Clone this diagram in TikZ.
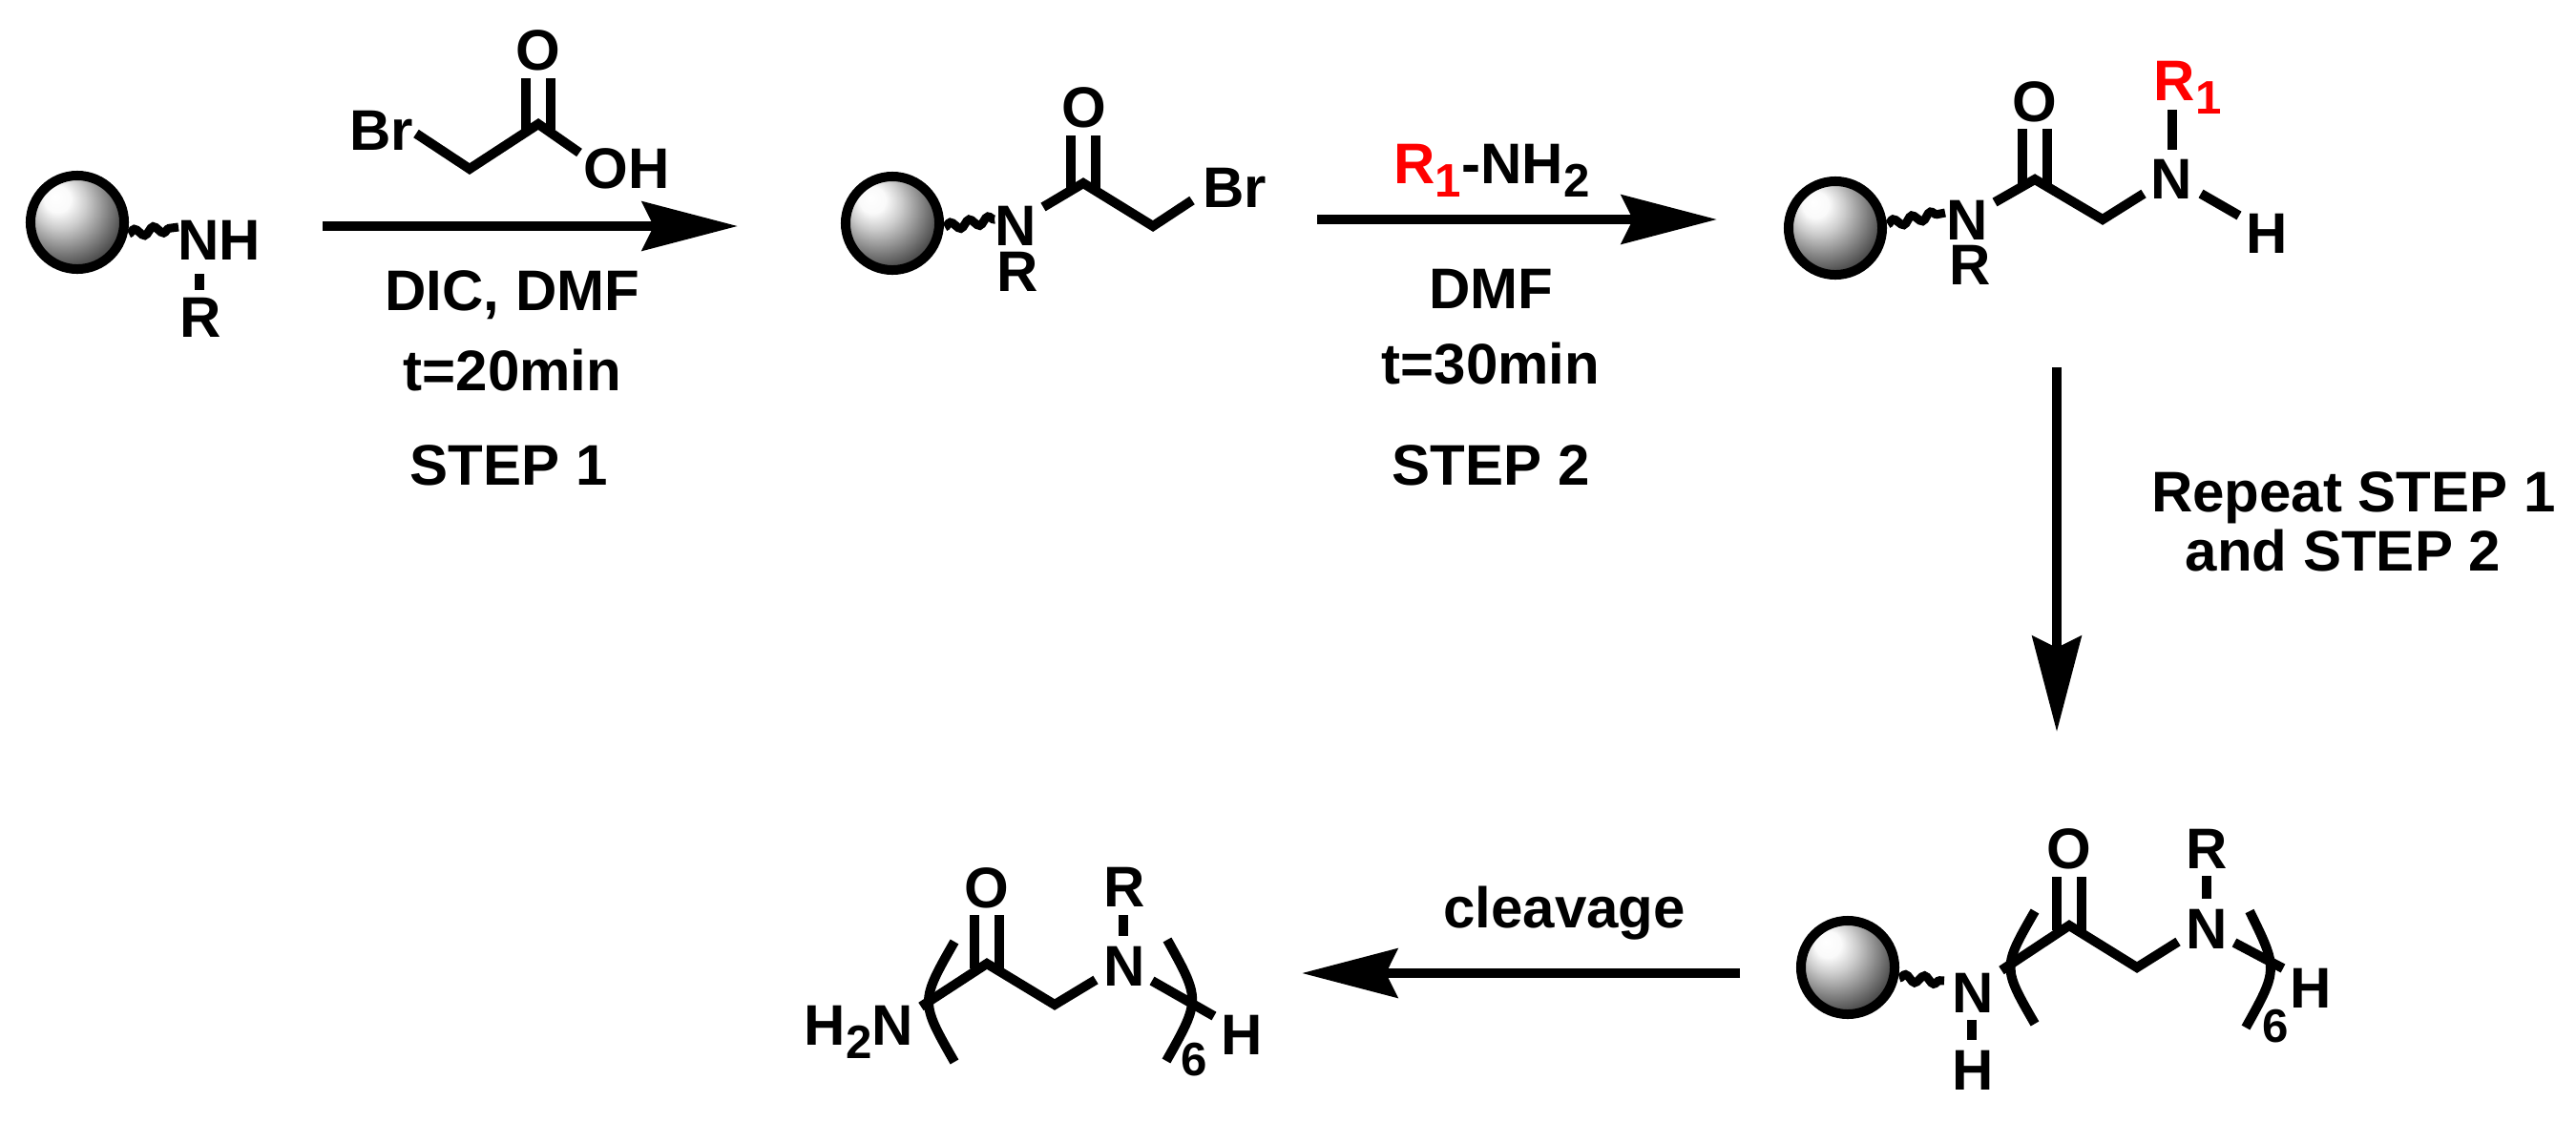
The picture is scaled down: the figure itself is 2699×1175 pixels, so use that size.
\documentclass[tikz,border=0pt]{standalone}
\usepackage{fontspec}
\setmainfont{Liberation Sans}
\usetikzlibrary{arrows.meta,decorations.pathmorphing}

\pgfdeclareradialshading{beadshade}{\pgfpoint{-12bp}{14bp}}{color(0bp)=(white); color(7bp)=(black!2); color(14bp)=(black!20); color(22bp)=(black!44); color(30bp)=(black!68); color(40bp)=(black!88); color(60bp)=(black)}
\newcommand{\subs}[1]{\raisebox{-.14cm}{\fontsize{14}{14}\selectfont #1}}

\begin{document}
\begin{tikzpicture}[x = 0.01cm, y = -0.01cm,
        atom/.style = {font = \fontsize{17.07}{20}\selectfont\bfseries, inner sep = 0pt, anchor = base},
        bead/.style = {circle, draw, line width = 0.1cm, outer sep = 0pt, minimum size = 0.98cm, shading = beadshade},
        bond/.style = {line width = 0.1cm},
        dbl/.style = {line width = 0.1cm, double = white, double distance = 0.16cm},
        wavy/.style = {line width = 0.09cm, decorate, decoration = {snake, segment length = 0.2cm, amplitude = 0.04cm}},
        rxn/.style = {line width = 0.1cm, -{Stealth[length = 1cm, width = 0.51cm, inset = 0.12cm]}}]
    \useasboundingbox (0,0) rectangle (2699,1175);

    \foreach \name/\x/\y in {one/81/233, two/935/234, three/1923/239, four/1936/1014}
        \node[bead] (bead\name) at (\x,\y) {};

    % resin amine
    \node[atom] (nh1) at (230,272) {NH};
    \node[atom] (r1) at (210,353) {R};
    \coordinate (w1a) at (135,245);
    \coordinate (w1b) at (187,238);
    \coordinate (b1a) at (209,287);
    \coordinate (b1b) at (209,304);
    \draw[wavy] (w1a) -- (w1b);
    \draw[bond] (b1a) -- (b1b);

    % bromoacetic acid
    \node[atom] (obr) at (564,73) {O};
    \node[atom] (br) at (400,157) {Br};
    \node[atom] (oh) at (657,197) {OH};
    \coordinate (ra) at (436,140);
    \coordinate (rb) at (492,177);
    \coordinate (rc) at (564,130);
    \coordinate (rd) at (607,160);
    \coordinate (re) at (564,82);
    \coordinate (rf) at (564,136);
    \draw[dbl] (rf) -- (re);
    \draw[bond] (ra) -- (rb) -- (rc) -- (rd);

    % step 1
    \coordinate (a1a) at (338,237);
    \coordinate (a1b) at (773,237);
    \draw[rxn] (a1a) -- (a1b);
    \node[atom] (dic) at (537,325) {DIC, DMF};
    \node[atom] (t20) at (537,409) {t=20min};
    \node[atom] (st1) at (533,508) {STEP 1};

    % bromide on resin
    \node[atom] (n2) at (1064,257) {N};
    \node[atom] (r2) at (1066,305) {R};
    \node[atom] (o2) at (1136,133) {O};
    \node[atom] (br2) at (1294,217) {Br};
    \coordinate (w2a) at (990,238);
    \coordinate (w2b) at (1042,230);
    \coordinate (c2a) at (1093,217);
    \coordinate (c2b) at (1135,192);
    \coordinate (c2c) at (1208,237);
    \coordinate (c2d) at (1249,210);
    \coordinate (c2e) at (1135,142);
    \coordinate (c2f) at (1135,198);
    \draw[wavy] (w2a) -- (w2b);
    \draw[dbl] (c2f) -- (c2e);
    \draw[bond] (c2a) -- (c2b) -- (c2c) -- (c2d);

    % step 2
    \coordinate (a2a) at (1380,230);
    \coordinate (a2b) at (1799,230);
    \draw[rxn] (a2a) -- (a2b);
    \node[atom] (amine) at (1563,192) {\textcolor{red}{R\subs{1}}-NH\subs{2}};
    \node[atom] (dmf) at (1562,323) {DMF};
    \node[atom] (t30) at (1562,402) {t=30min};
    \node[atom] (st2) at (1562,508) {STEP 2};

    % peptoid monomer
    \node[atom] (n3) at (2061,251) {N};
    \node[atom] (r3) at (2064,298) {R};
    \node[atom] (o3) at (2132,127) {O};
    \node[atom] (n3b) at (2275,208) {N};
    \node[atom] (r3b) at (2292,105) {\textcolor{red}{R\subs{1}}};
    \node[atom] (h3) at (2375,265) {H};
    \coordinate (w3a) at (1978,235);
    \coordinate (w3b) at (2038,223);
    \coordinate (c3a) at (2090,212);
    \coordinate (c3b) at (2132,188);
    \coordinate (c3c) at (2203,230);
    \coordinate (c3d) at (2246,203);
    \coordinate (c3e) at (2132,135);
    \coordinate (c3f) at (2132,193);
    \coordinate (c3g) at (2276,115);
    \coordinate (c3h) at (2276,157);
    \coordinate (c3i) at (2306,203);
    \coordinate (c3j) at (2346,226);
    \draw[wavy] (w3a) -- (w3b);
    \draw[dbl] (c3f) -- (c3e);
    \draw[bond] (c3a) -- (c3b) -- (c3c) -- (c3d);
    \draw[bond] (c3g) -- (c3h);
    \draw[bond] (c3i) -- (c3j);

    % repeat
    \coordinate (a3a) at (2155,385);
    \coordinate (a3b) at (2155,767);
    \draw[rxn] (a3a) -- (a3b);
    \node[atom] (rep1) at (2466,536) {Repeat STEP 1};
    \node[atom] (rep2) at (2455,598) {and STEP 2};

    % hexamer on resin
    \node[atom] (n4) at (2067,1061) {N};
    \node[atom] (h4) at (2067,1142) {H};
    \node[atom] (o4) at (2168,910) {O};
    \node[atom] (n4b) at (2312,994) {N};
    \node[atom] (r4) at (2312,910) {R};
    \node[atom] (h4b) at (2421,1056) {H};
    \node[atom, font = \fontsize{14}{14}\selectfont\bfseries] (six4) at (2384,1092) {6};
    \coordinate (w4a) at (1990,1025);
    \coordinate (w4b) at (2037,1028);
    \coordinate (d4a) at (2066,1069);
    \coordinate (d4b) at (2066,1090);
    \coordinate (c4a) at (2097,1017);
    \coordinate (c4b) at (2168,970);
    \coordinate (c4c) at (2239,1014);
    \coordinate (c4d) at (2282,987);
    \coordinate (c4e) at (2168,919);
    \coordinate (c4f) at (2168,975);
    \coordinate (c4g) at (2312,918);
    \coordinate (c4h) at (2312,942);
    \coordinate (c4i) at (2341,988);
    \coordinate (c4j) at (2392,1015);
    \coordinate (l4a) at (2132,955);
    \coordinate (l4b) at (2098,1014);
    \coordinate (l4c) at (2132,1073);
    \coordinate (m4a) at (2357,955);
    \coordinate (m4b) at (2387,1016);
    \coordinate (m4c) at (2353,1077);
    \draw[wavy] (w4a) -- (w4b);
    \draw[bond] (d4a) -- (d4b);
    \draw[dbl] (c4f) -- (c4e);
    \draw[bond] (c4a) -- (c4b) -- (c4c) -- (c4d);
    \draw[bond] (c4g) -- (c4h);
    \draw[bond] (c4i) -- (c4j);
    \draw[bond] (l4a) .. controls (l4b) .. (l4c);
    \draw[bond] (m4a) .. controls (m4b) .. (m4c);

    % cleavage
    \coordinate (a4a) at (1823,1020);
    \coordinate (a4b) at (1364,1020);
    \draw[rxn] (a4a) -- (a4b);
    \node[atom] (clv) at (1639,972) {cleavage};

    % free hexamer
    \node[atom] (h2n) at (900,1095) {H\subs{2}N};
    \node[atom] (o5) at (1034,951) {O};
    \node[atom] (n5) at (1178,1033) {N};
    \node[atom] (r5) at (1178,950) {R};
    \node[atom] (h5) at (1301,1105) {H};
    \node[atom, font = \fontsize{14}{14}\selectfont\bfseries] (six5) at (1251,1127) {6};
    \coordinate (c5a) at (965,1055);
    \coordinate (c5b) at (1034,1010);
    \coordinate (c5c) at (1105,1053);
    \coordinate (c5d) at (1148,1027);
    \coordinate (c5e) at (1034,959);
    \coordinate (c5f) at (1034,1015);
    \coordinate (c5g) at (1177,959);
    \coordinate (c5h) at (1177,981);
    \coordinate (c5i) at (1207,1028);
    \coordinate (c5j) at (1272,1065);
    \coordinate (l5a) at (1000,987);
    \coordinate (l5b) at (964,1050);
    \coordinate (l5c) at (1000,1113);
    \coordinate (m5a) at (1223,985);
    \coordinate (m5b) at (1258,1048);
    \coordinate (m5c) at (1222,1112);
    \draw[dbl] (c5f) -- (c5e);
    \draw[bond] (c5a) -- (c5b) -- (c5c) -- (c5d);
    \draw[bond] (c5g) -- (c5h);
    \draw[bond] (c5i) -- (c5j);
    \draw[bond] (l5a) .. controls (l5b) .. (l5c);
    \draw[bond] (m5a) .. controls (m5b) .. (m5c);
\end{tikzpicture}
\end{document}
